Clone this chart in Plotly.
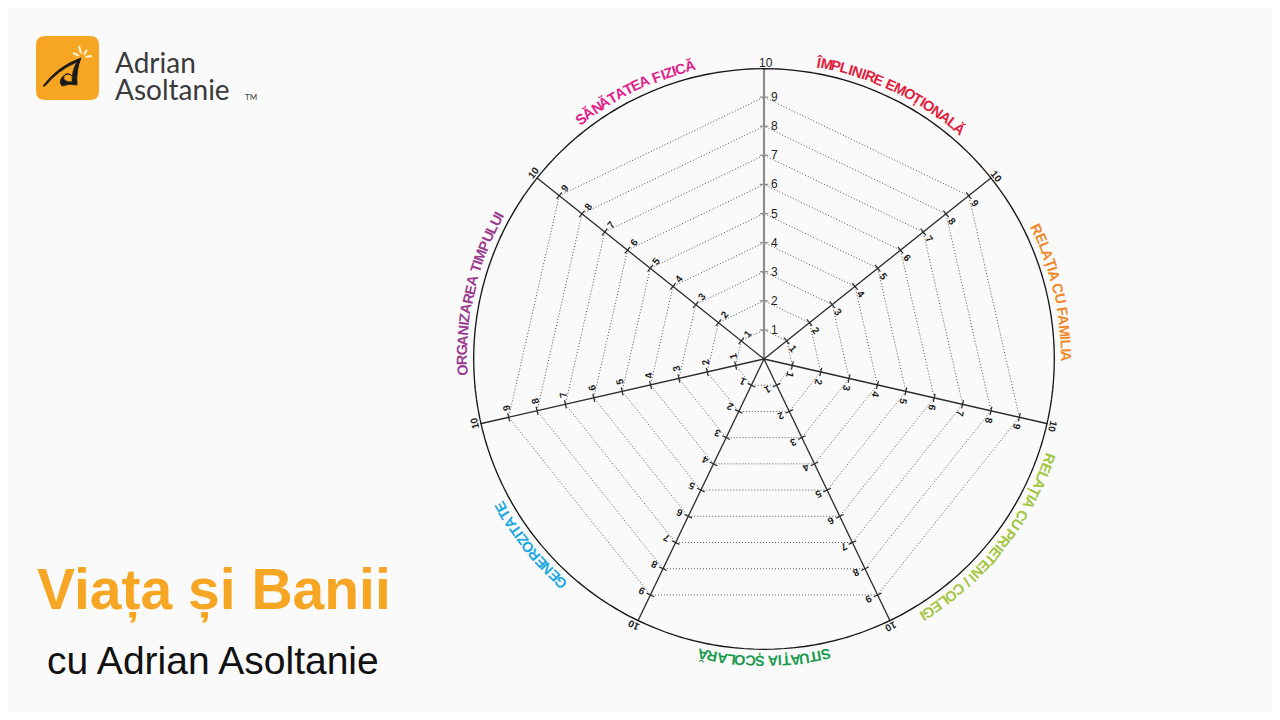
import math
import plotly.graph_objects as go

# ---------------- data ----------------
spokes = ["S1", "S2", "S3", "S4", "S5", "S6", "S7"]
levels = [1, 2, 3, 4, 5, 6, 7, 8, 9, 10]
level_labels = ["1", "2", "3", "4", "5", "6", "7", "8", "9", "10"]
sectors = ["SĂNĂTATEA FIZICĂ", "ÎMPLINIRE EMOȚIONALĂ", "RELAȚIA CU FAMILIA",
           "RELAȚIA CU PRIETENI / COLEGI", "SITUAȚIA ȘCOLARĂ", "GENEROZITATE",
           "ORGANIZAREA TIMPULUI"]
sector_colors = ["#e2208a", "#e0203a", "#f0892a", "#a2c73f", "#1a9a4e", "#1ba7e0", "#9a3d8e"]
circle_theta = [d for d in range(0, 361, 2)]
circle_r = [10] * len(circle_theta)

# ---------------- layout geometry (page pixels) ----------------
OFF = 8                      # default body margin of the html page
FW, FH = 1264, 704           # figure size
CX, CY, R = 764, 359, 291    # centre / radius on the page
BG = "#fafafa"
N = len(spokes)
STEP = 360 / N


def px(x):
    return (x - OFF) / FW


def py(y):
    return 1 - (y - OFF) / FH


fig = go.Figure()

# spokes
for i, s in enumerate(spokes):
    fig.add_trace(go.Scatterpolar(
        r=[0, levels[-1]], theta=[s, s], mode="lines", subplot="polar",
        line=dict(color="#8c8c8c" if i == 0 else "#2a2a2a", width=2.2 if i == 0 else 1.3),
        hoverinfo="skip", showlegend=False))

# tick marks on each spoke
for i, s in enumerate(spokes):
    fig.add_trace(go.Scatterpolar(
        r=levels[:-1], theta=[s] * (len(levels) - 1), mode="markers", subplot="polar",
        marker=dict(symbol="line-ew", size=6, angle=i * STEP,
                    line=dict(width=1.2, color="#8c8c8c" if i == 0 else "#2a2a2a")),
        hoverinfo="skip", showlegend=False))

# centre dot
fig.add_trace(go.Scatterpolar(
    r=[0], theta=[spokes[0]], mode="markers", subplot="polar",
    marker=dict(color="#e3151c", size=15, line=dict(color="#8a0d10", width=1)),
    hoverinfo="skip", showlegend=False))

# outer circle
fig.add_trace(go.Scatterpolar(
    r=circle_r, theta=circle_theta, mode="lines", subplot="polar2",
    line=dict(color="#151515", width=2.7), hoverinfo="skip", showlegend=False))

dom_x = [px(CX - R), px(CX + R)]
dom_y = [py(CY + R), py(CY - R)]

fig.update_layout(
    width=FW, height=FH, margin=dict(l=0, r=0, t=0, b=0),
    paper_bgcolor=BG, plot_bgcolor=BG, showlegend=False, hovermode=False,
    polar=dict(
        domain=dict(x=dom_x, y=dom_y), bgcolor=BG, gridshape="linear", hole=0,
        angularaxis=dict(type="category", categoryarray=spokes, rotation=90,
                         direction="clockwise", showgrid=False, showline=False,
                         showticklabels=False, ticks=""),
        radialaxis=dict(range=[0, 10], tickvals=levels, showticklabels=False, ticks="",
                        showline=False, showgrid=True, gridcolor="#555555",
                        griddash="1px,2px", gridwidth=1),
    ),
    polar2=dict(
        domain=dict(x=dom_x, y=dom_y), bgcolor="rgba(0,0,0,0)",
        angularaxis=dict(visible=False, rotation=90, direction="clockwise"),
        radialaxis=dict(visible=False, range=[0, 10]),
    ),
)

annotations = []


def norm_angle(a):
    return (a + 180) % 360 - 180


# numbers along each spoke
for i in range(N):
    a = math.radians(i * STEP)
    ox, oy = math.sin(a), -math.cos(a)
    rx, ry = math.cos(a), math.sin(a)
    for v, lab in zip(levels, level_labels):
        if v < levels[-1]:
            rr, d = v * R / levels[-1], 10
        else:
            rr, d = R + 5, 2
        x = CX + ox * rr + rx * d
        y = CY + oy * rr + ry * d
        annotations.append(dict(
            x=px(x), y=py(y), xref="paper", yref="paper", text=lab, showarrow=False,
            xanchor="center", yanchor="middle", textangle=norm_angle(i * STEP),
            font=dict(family="Liberation Sans, Arial, sans-serif",
                      size=12 if i == 0 else 10, color="#1e1e1e",
                      weight="normal" if i == 0 else "bold")))

# curved sector labels (one annotation per character)
WID = {" ": 278, "A": 722, "B": 722, "C": 722, "D": 722, "E": 667, "F": 611, "G": 778,
       "H": 722, "I": 278, "L": 611, "M": 833, "N": 722, "O": 778, "P": 667, "R": 722,
       "S": 667, "T": 611, "U": 722, "Z": 611, "/": 278, "Ă": 722, "Î": 278, "Ț": 611,
       "Ș": 667}
LFS = 14.5
ADV = 13.6
LR = 302
for k, (name, col) in enumerate(zip(sectors, sector_colors)):
    center = (k - 0.5) * STEP
    widths = [WID.get(c, 700) / 1000 * ADV for c in name]
    total = sum(widths)
    s = -total / 2
    for c, w in zip(name, widths):
        mid = s + w / 2
        s += w
        if c == " ":
            continue
        ang = center + math.degrees(mid / LR)
        a = math.radians(ang)
        x = CX + LR * math.sin(a)
        y = CY - LR * math.cos(a)
        annotations.append(dict(
            x=px(x), y=py(y), xref="paper", yref="paper", text=c, showarrow=False,
            xanchor="center", yanchor="middle", textangle=norm_angle(ang),
            font=dict(family="Liberation Sans, Arial, sans-serif",
                      size=LFS, color=col, weight="bold")))

# logo text
logo_font = dict(family="Lato, Open Sans, sans-serif", size=28, color="#3a3a3a")
annotations.append(dict(x=px(113), y=py(62), xref="paper", yref="paper", text="Adrian",
                        showarrow=False, xanchor="left", yanchor="middle", font=logo_font))
annotations.append(dict(x=px(113), y=py(89), xref="paper", yref="paper", text="Asoltanie",
                        showarrow=False, xanchor="left", yanchor="middle", font=logo_font))
annotations.append(dict(x=px(243), y=py(97), xref="paper", yref="paper", text="TM",
                        showarrow=False, xanchor="left", yanchor="middle",
                        font=dict(family="Lato, sans-serif", size=8, color="#3a3a3a")))

# title
annotations.append(dict(x=px(35), y=py(590), xref="paper", yref="paper", text="<b>Viața și Banii</b>",
                        showarrow=False, xanchor="left", yanchor="middle",
                        font=dict(family="Liberation Sans, Arial, sans-serif",
                                  size=57, color="#f6a623")))
annotations.append(dict(x=px(45), y=py(660), xref="paper", yref="paper", text="cu Adrian Asoltanie",
                        showarrow=False, xanchor="left", yanchor="middle",
                        font=dict(family="Liberation Sans, Arial, sans-serif",
                                  size=39, color="#111111")))

fig.update_layout(annotations=annotations)


# logo icon shapes
def P(x, y):
    return f"{px(x):.5f},{py(y):.5f}"


x0, y0, x1, y1, rr = 36, 36, 99, 100, 9
box = (f"M {P(x0 + rr, y0)} L {P(x1 - rr, y0)} Q {P(x1, y0)} {P(x1, y0 + rr)} "
       f"L {P(x1, y1 - rr)} Q {P(x1, y1)} {P(x1 - rr, y1)} L {P(x0 + rr, y1)} "
       f"Q {P(x0, y1)} {P(x0, y1 - rr)} L {P(x0, y0 + rr)} Q {P(x0, y0)} {P(x0 + rr, y0)} Z")
swoosh = (f"M {P(43, 86)} Q {P(58, 66)} {P(81, 58)} Q {P(76, 70)} {P(77, 85)} "
          f"Q {P(70, 83)} {P(62, 86)} Q {P(57, 80)} {P(66, 74)} Q {P(70, 73)} {P(72, 76)} "
          f"Q {P(68, 72)} {P(64, 76)} Q {P(62, 82)} {P(72, 82)} Q {P(72, 70)} {P(77, 62)} "
          f"Q {P(58, 70)} {P(45, 86)} Z")
shapes = [
    dict(type="path", path=box, xref="paper", yref="paper", fillcolor="#f6a623",
         line=dict(width=0), layer="above"),
    dict(type="path", path=swoosh, xref="paper", yref="paper", fillcolor="#1a1a1a",
         line=dict(color="#1a1a1a", width=0.8), layer="above"),
]
for (ex, ey) in [(79, 46), (87, 50), (92, 56), (73, 53)]:
    shapes.append(dict(type="line", xref="paper", yref="paper",
                       x0=px(82 + (ex - 82) * 0.35), y0=py(57 + (ey - 57) * 0.35),
                       x1=px(ex), y1=py(ey), line=dict(color="#fff4d6", width=2), layer="above"))
fig.update_layout(shapes=shapes)

fig.write_html("out.html")
